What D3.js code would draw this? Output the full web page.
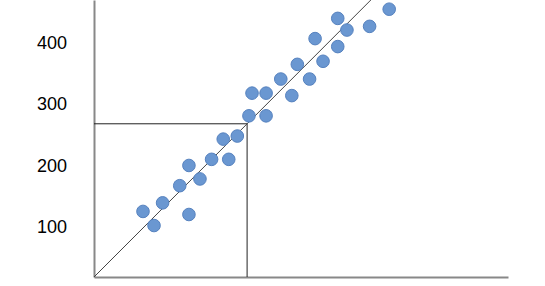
<!DOCTYPE html>
<html>
<head>
<meta charset="utf-8">
<script src="https://cdn.jsdelivr.net/npm/d3@7"></script>
<style>
  html, body { margin: 0; padding: 0; background: #fff; }
  svg { display: block; }
</style>
</head>
<body>
<svg id="chart" width="545" height="286"></svg>
<script>
const xValues = [98, 116, 130, 173, 158, 173, 191, 210, 238, 229, 252, 271, 299, 276, 299,
                 323, 341, 350, 370, 379, 392, 416, 416, 431, 468, 500];
const yValues = [125, 102, 139, 120, 167, 200, 178, 210, 210, 243, 248, 281, 281, 318, 318,
                 341, 314, 365, 341, 407, 370, 440, 394, 421, 427, 455];
const yTicks = [100, 200, 300, 400];
const guideValue = 268;   // Hilfslinien bis zur Diagonale
const xDomain = [18, 694];
const yDomain = [18, 470];

const svg = d3.select("#chart");

const margin = { left: 94, right: 37, top: 0, bottom: 9 };
const width = 545 - margin.left - margin.right;
const height = 286 - margin.top - margin.bottom;

const x = d3.scaleLinear().domain(xDomain).range([margin.left, margin.left + width]);
const y = d3.scaleLinear().domain(yDomain).range([margin.top + height, margin.top]);

// y-Achse
const yAxis = svg.append("g")
    .attr("transform", `translate(${margin.left},0)`)
    .call(d3.axisLeft(y).tickValues(yTicks).tickSize(0).tickPadding(27).tickSizeOuter(0));
yAxis.select(".domain").attr("stroke", "#888").attr("stroke-width", 2);
yAxis.selectAll("text")
    .attr("fill", "#000")
    .style("font-family", "'Liberation Sans', Arial, sans-serif")
    .style("font-size", "18px");

// x-Achse (ohne Beschriftung)
const xAxis = svg.append("g")
    .attr("transform", `translate(0,${margin.top + height})`)
    .call(d3.axisBottom(x).ticks(0).tickSizeOuter(0));
xAxis.select(".domain").attr("stroke", "#888").attr("stroke-width", 2);

// Hilfslinien
svg.append("path")
    .attr("d", d3.line()([[x(xDomain[0]), y(guideValue)], [x(guideValue), y(guideValue)], [x(guideValue), y(yDomain[0])]]))
    .attr("fill", "none")
    .attr("stroke", "#222")
    .attr("stroke-width", 1);

// Diagonale y = x
svg.append("line")
    .attr("x1", x(xDomain[0]))
    .attr("y1", y(yDomain[0]))
    .attr("x2", x(yDomain[1]))
    .attr("y2", y(yDomain[1]))
    .attr("stroke", "#444")
    .attr("stroke-width", 1);

// Punkte
svg.append("g")
    .selectAll("circle")
    .data(xValues.map((v, i) => [v, yValues[i]]))
    .enter()
    .append("circle")
    .attr("cx", d => x(d[0]))
    .attr("cy", d => y(d[1]))
    .attr("r", 6.3)
    .attr("fill", "#6a97d1")
    .attr("stroke", "#5682bf")
    .attr("stroke-width", 1);
</script>
</body>
</html>
